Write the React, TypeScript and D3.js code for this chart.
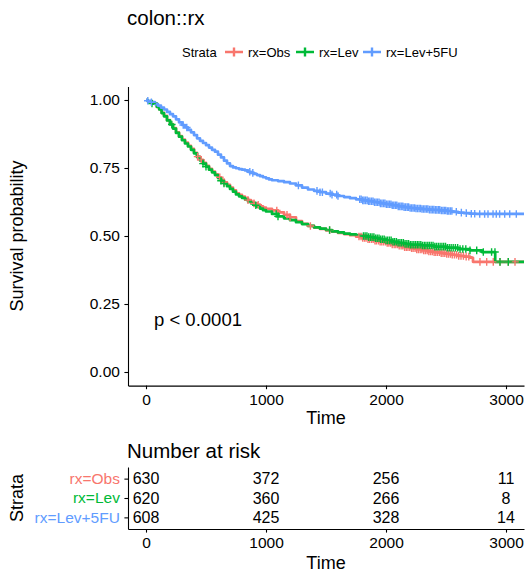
import { useEffect, useRef } from "react";
import * as d3 from "d3";

const STRATA = ["rx=Obs", "rx=Lev", "rx=Lev+5FU"];
const COLORS = ["#F8766D", "#00BA38", "#619CFF"];

// Kaplan-Meier steps: time (days) of each drop and the value after it
const OBS_TIME = [0, 15, 50, 90, 110, 130, 150, 175, 200, 225, 250, 275, 300, 325, 350, 375, 400, 425, 450, 475, 500, 525, 550, 575, 600, 625, 650, 675, 700, 725, 750, 775, 800, 825, 850, 875, 900, 925, 950, 975, 1000, 1050, 1100, 1150, 1200, 1250, 1300, 1350, 1400, 1450, 1500, 1550, 1600, 1650, 1700, 1750, 1800, 1850, 1900, 1950, 2000, 2050, 2100, 2150, 2200, 2250, 2300, 2350, 2400, 2450, 2500, 2550, 2600, 2650, 2700, 2725];
const OBS_SURV = [1, 0.995, 0.987, 0.975, 0.966, 0.953, 0.942, 0.926, 0.911, 0.897, 0.881, 0.867, 0.854, 0.843, 0.831, 0.82, 0.806, 0.792, 0.78, 0.769, 0.758, 0.747, 0.737, 0.727, 0.716, 0.706, 0.697, 0.688, 0.678, 0.668, 0.657, 0.651, 0.645, 0.639, 0.632, 0.626, 0.62, 0.615, 0.609, 0.604, 0.6, 0.594, 0.587, 0.578, 0.569, 0.555, 0.545, 0.537, 0.531, 0.526, 0.521, 0.516, 0.511, 0.507, 0.503, 0.498, 0.493, 0.488, 0.483, 0.479, 0.474, 0.469, 0.464, 0.459, 0.455, 0.451, 0.447, 0.443, 0.44, 0.437, 0.434, 0.431, 0.427, 0.424, 0.42, 0.405];
const OBS_CENSOR = [430, 460, 615, 650, 850, 900, 935, 1090, 1175, 1200, 1370, 1530, 1775, 1792, 1806, 1821, 1834, 1850, 1863, 1879, 1893, 1908, 1920, 1937, 1951, 1965, 1980, 1996, 2010, 2024, 2039, 2052, 2068, 2082, 2097, 2110, 2126, 2140, 2155, 2169, 2183, 2198, 2213, 2226, 2242, 2256, 2270, 2285, 2299, 2314, 2328, 2343, 2357, 2372, 2386, 2401, 2415, 2430, 2446, 2460, 2475, 2490, 2506, 2521, 2537, 2552, 2570, 2588, 2606, 2625, 2645, 2668, 2690, 2783, 2839, 2894, 2950, 3019, 3075];

const LEV_TIME = [0, 15, 50, 90, 110, 130, 150, 175, 200, 225, 250, 275, 300, 325, 350, 375, 400, 425, 450, 475, 500, 525, 550, 575, 600, 625, 650, 675, 700, 725, 750, 775, 800, 825, 850, 875, 900, 925, 950, 975, 1000, 1050, 1100, 1150, 1200, 1250, 1300, 1350, 1400, 1450, 1500, 1550, 1600, 1650, 1700, 1750, 1800, 1850, 1900, 1950, 2000, 2050, 2100, 2150, 2200, 2300, 2400, 2500, 2600, 2700, 2800, 2910];
const LEV_SURV = [1, 0.995, 0.987, 0.975, 0.965, 0.952, 0.94, 0.925, 0.91, 0.895, 0.879, 0.865, 0.852, 0.84, 0.829, 0.817, 0.804, 0.79, 0.778, 0.766, 0.755, 0.744, 0.734, 0.724, 0.713, 0.703, 0.693, 0.683, 0.673, 0.663, 0.653, 0.646, 0.64, 0.634, 0.627, 0.62, 0.613, 0.607, 0.601, 0.595, 0.59, 0.581, 0.572, 0.565, 0.558, 0.551, 0.544, 0.537, 0.532, 0.527, 0.522, 0.517, 0.513, 0.509, 0.506, 0.503, 0.5, 0.496, 0.492, 0.488, 0.484, 0.479, 0.475, 0.471, 0.468, 0.465, 0.461, 0.457, 0.452, 0.447, 0.441, 0.405];
const LEV_CENSOR = [50, 215, 475, 500, 625, 650, 915, 1085, 1100, 1530, 1812, 1826, 1841, 1855, 1870, 1884, 1899, 1913, 1927, 1942, 1956, 1971, 1985, 2000, 2014, 2029, 2043, 2058, 2072, 2087, 2101, 2116, 2130, 2145, 2159, 2174, 2188, 2203, 2217, 2232, 2246, 2261, 2275, 2290, 2304, 2319, 2333, 2348, 2362, 2377, 2392, 2407, 2421, 2436, 2451, 2466, 2481, 2496, 2511, 2527, 2543, 2560, 2578, 2597, 2617, 2640, 2665, 2700, 2756, 2811, 2880, 2908, 2950, 3019];

const LEV5_TIME = [0, 10, 40, 75, 100, 125, 150, 175, 200, 225, 250, 275, 300, 325, 350, 375, 400, 425, 450, 475, 500, 525, 550, 575, 600, 625, 650, 675, 700, 725, 750, 775, 800, 825, 850, 875, 900, 925, 950, 975, 1000, 1025, 1050, 1100, 1150, 1200, 1250, 1300, 1350, 1400, 1450, 1500, 1550, 1600, 1650, 1700, 1750, 1800, 1850, 1900, 1950, 2000, 2050, 2100, 2150, 2200, 2250, 2300, 2350, 2400, 2450, 2500, 2550, 2600, 2650, 2700, 2750];
const LEV5_SURV = [1, 0.997, 0.992, 0.985, 0.979, 0.972, 0.965, 0.956, 0.948, 0.94, 0.929, 0.918, 0.908, 0.899, 0.89, 0.881, 0.871, 0.859, 0.85, 0.842, 0.834, 0.825, 0.817, 0.81, 0.799, 0.789, 0.777, 0.767, 0.757, 0.752, 0.749, 0.746, 0.744, 0.741, 0.736, 0.732, 0.728, 0.724, 0.72, 0.716, 0.712, 0.708, 0.705, 0.702, 0.698, 0.693, 0.686, 0.678, 0.671, 0.666, 0.661, 0.656, 0.652, 0.647, 0.643, 0.639, 0.635, 0.631, 0.628, 0.624, 0.62, 0.617, 0.613, 0.609, 0.606, 0.603, 0.601, 0.599, 0.597, 0.596, 0.594, 0.592, 0.589, 0.586, 0.584, 0.582, 0.581];
const LEV5_CENSOR = [15, 45, 310, 340, 865, 890, 1270, 1425, 1450, 1470, 1535, 1550, 1589, 1600, 1781, 1793, 1806, 1817, 1830, 1843, 1855, 1866, 1880, 1892, 1904, 1917, 1929, 1942, 1953, 1966, 1979, 1991, 2003, 2016, 2028, 2041, 2052, 2065, 2078, 2090, 2102, 2115, 2127, 2140, 2151, 2164, 2177, 2189, 2201, 2214, 2226, 2239, 2250, 2263, 2276, 2288, 2300, 2313, 2325, 2338, 2349, 2362, 2375, 2387, 2399, 2412, 2424, 2437, 2448, 2461, 2474, 2486, 2498, 2511, 2523, 2536, 2549, 2586, 2628, 2669, 2711, 2739, 2781, 2822, 2850, 2892, 2919, 2947, 2989, 3031, 3086];

const RISK_TIMES = [0, 1000, 2000, 3000];
const OBS_RISK = [630, 372, 256, 11];
const LEV_RISK = [620, 360, 266, 8];
const LEV5_RISK = [608, 425, 328, 14];

const X_TICKS = [0, 1000, 2000, 3000];
const Y_TICKS = [0, 0.25, 0.5, 0.75, 1];

const WIDTH = 532;
const HEIGHT = 578;
const FONT = "'Liberation Sans', Arial, Helvetica, sans-serif";
const PANEL = { left: 128, right: 524, top: 86.4, bottom: 385.6 };
const TABLE = { top: 467, bottom: 529 };
const X_END = 3300;

const App = () => {
  const svgRef = useRef<SVGSVGElement | null>(null);

  useEffect(() => {
    if (!svgRef.current) return;
    const svg = d3.select(svgRef.current);
    svg.selectAll("*").remove();

    const series = [
      { name: STRATA[0], time: OBS_TIME, surv: OBS_SURV, censor: OBS_CENSOR, risk: OBS_RISK, color: COLORS[0] },
      { name: STRATA[1], time: LEV_TIME, surv: LEV_SURV, censor: LEV_CENSOR, risk: LEV_RISK, color: COLORS[1] },
      { name: STRATA[2], time: LEV5_TIME, surv: LEV5_SURV, censor: LEV5_CENSOR, risk: LEV5_RISK, color: COLORS[2] },
    ];

    const x = d3.scaleLinear().domain([-150, 3150]).range([PANEL.left, PANEL.right]);
    const y = d3.scaleLinear().domain([-0.05, 1.05]).range([PANEL.bottom, PANEL.top]);

    svg
      .append("clipPath")
      .attr("id", "panel-clip")
      .append("rect")
      .attr("x", PANEL.left)
      .attr("y", PANEL.top)
      .attr("width", PANEL.right - PANEL.left)
      .attr("height", PANEL.bottom - PANEL.top);

    // title
    svg.append("text").attr("x", 127).attr("y", 25).attr("font-size", 20.5).text("colon::rx");

    // legend
    const legend = svg.append("g").attr("font-size", 13);
    legend.append("text").attr("x", 182).attr("y", 56.5).text("Strata");
    const keyX = [225, 296, 363];
    series.forEach((s, i) => {
      const kx = keyX[i];
      legend
        .append("path")
        .attr("d", `M${kx},52H${kx + 18}M${kx + 9},47.5V56.5`)
        .attr("stroke", s.color)
        .attr("stroke-width", 2.4)
        .attr("fill", "none");
      legend.append("text").attr("x", kx + 23).attr("y", 56.5).text(s.name);
    });

    // curves
    const curves = svg.append("g").attr("clip-path", "url(#panel-clip)");
    const line = d3
      .line<[number, number]>()
      .x((d) => x(d[0]))
      .y((d) => y(d[1]))
      .curve(d3.curveStepAfter);

    series.forEach((s) => {
      const pts: [number, number][] = s.time.map((t, i) => [t, s.surv[i]]);
      pts.push([X_END, s.surv[s.surv.length - 1]]);
      curves
        .append("path")
        .attr("d", line(pts))
        .attr("fill", "none")
        .attr("stroke", s.color)
        .attr("stroke-width", 2.7)
        .attr("stroke-linejoin", "round");
    });

    series.forEach((s) => {
      const stepAt = (t: number) => s.surv[Math.max(0, d3.bisectRight(s.time, t) - 1)];
      curves
        .selectAll(null)
        .data(s.censor)
        .join("path")
        .attr("d", (t) => {
          const cx = x(t);
          const cy = y(stepAt(t));
          return `M${cx - 3.8},${cy}H${cx + 3.8}M${cx},${cy - 3.8}V${cy + 3.8}`;
        })
        .attr("stroke", s.color)
        .attr("stroke-width", 1.4)
        .attr("fill", "none");
    });

    // axes of the survival panel
    const styleAxis = (g: d3.Selection<SVGGElement, unknown, null, undefined>, size: number) => {
      g.attr("font-family", FONT).attr("font-size", size);
      g.selectAll("path, line").attr("stroke", "#000").attr("stroke-width", 1.1);
      g.selectAll("text").attr("fill", "#000");
    };

    svg
      .append("g")
      .attr("transform", `translate(${PANEL.left},0)`)
      .call(d3.axisLeft(y).tickValues(Y_TICKS).tickFormat(d3.format(".2f")).tickSize(3.6).tickSizeOuter(0).tickPadding(4.5))
      .call((g) => styleAxis(g, 15.5));

    svg
      .append("g")
      .attr("transform", `translate(0,${PANEL.bottom})`)
      .call(d3.axisBottom(x).tickValues(X_TICKS).tickFormat(d3.format("d")).tickSize(3.6).tickSizeOuter(0).tickPadding(4.5))
      .call((g) => styleAxis(g, 15.5));

    svg
      .append("text")
      .attr("x", (PANEL.left + PANEL.right) / 2)
      .attr("y", 424)
      .attr("text-anchor", "middle")
      .attr("font-size", 18)
      .text("Time");

    svg
      .append("text")
      .attr("transform", `translate(23,${(PANEL.top + PANEL.bottom) / 2}) rotate(-90)`)
      .attr("text-anchor", "middle")
      .attr("font-size", 18)
      .text("Survival probability");

    svg.append("text").attr("x", 154).attr("y", 325.5).attr("font-size", 18.5).text("p < 0.0001");

    // risk table
    svg.append("text").attr("x", 127).attr("y", 458).attr("font-size", 20.5).text("Number at risk");

    const ry = d3.scalePoint<string>().domain(STRATA).range([TABLE.top, TABLE.bottom]).padding(0.6);

    series.forEach((s) => {
      svg
        .append("g")
        .selectAll("text")
        .data(RISK_TIMES)
        .join("text")
        .attr("x", (t) => x(t))
        .attr("y", ry(s.name)! + 5.8)
        .attr("text-anchor", "middle")
        .attr("font-size", 16)
        .text((_, i) => String(s.risk[i]));
    });

    svg
      .append("g")
      .attr("transform", `translate(${PANEL.left},0)`)
      .call(d3.axisLeft(ry).tickSize(3.6).tickSizeOuter(0).tickPadding(4.5))
      .call((g) => styleAxis(g, 15.5))
      .call((g) => g.selectAll<SVGTextElement, string>("text").attr("fill", (d) => COLORS[STRATA.indexOf(d)]));

    svg
      .append("g")
      .attr("transform", `translate(0,${TABLE.bottom})`)
      .call(d3.axisBottom(x).tickValues(X_TICKS).tickFormat(d3.format("d")).tickSize(3.6).tickSizeOuter(0).tickPadding(4.5))
      .call((g) => styleAxis(g, 15.5));

    svg
      .append("text")
      .attr("x", (PANEL.left + PANEL.right) / 2)
      .attr("y", 569)
      .attr("text-anchor", "middle")
      .attr("font-size", 18)
      .text("Time");

    svg
      .append("text")
      .attr("transform", `translate(23,${(TABLE.top + TABLE.bottom) / 2}) rotate(-90)`)
      .attr("text-anchor", "middle")
      .attr("font-size", 18)
      .text("Strata");
  }, []);

  return (
    <svg
      ref={svgRef}
      width={WIDTH}
      height={HEIGHT}
      style={{ position: "absolute", left: 0, top: 0, background: "#fff" }}
      fontFamily={FONT}
    />
  );
};

export default App;
